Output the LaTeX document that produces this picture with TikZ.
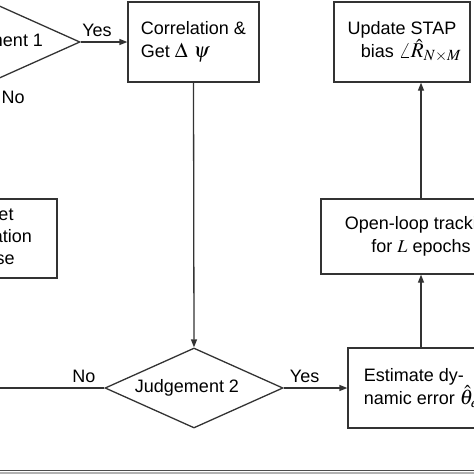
\documentclass[tikz,border=0pt]{standalone}
\usepackage{mathptmx}
\usepackage[no-math]{fontspec}
\setmainfont{Liberation Sans}
\usetikzlibrary{shapes.geometric,arrows.meta}
\tikzset{
  box/.style={draw=black!80,line width=1.3pt,rectangle,inner sep=0pt,
    font=\fontsize{18pt}{23pt}\selectfont},
  decision/.style={draw=black!80,line width=1.3pt,diamond,aspect=2.2,
    minimum width=178pt,minimum height=80pt,inner sep=0pt,
    font=\fontsize{18pt}{23pt}\selectfont},
  arr/.style={draw=black!80,line width=1.3pt,-{Triangle[length=8pt,width=6pt]}},
  lbl/.style={font=\fontsize{18pt}{23pt}\selectfont,inner sep=2pt}
}
\newcommand{\bigmath}[1]{{\fontsize{21pt}{23pt}\selectfont$#1$}}
\begin{document}
\begin{tikzpicture}[x=1pt,y=-1pt]
  \useasboundingbox (0,0) rectangle (474,474);
  \clip (0,0) rectangle (474,474);
  % decisions
  \node[decision] (judge1) at (-9,42) {Judgement 1};
  \node[decision] (judge2) at (194,388) {Judgement 2\hspace*{14pt}};
  % process boxes
  \node[box,minimum width=131pt,minimum height=80pt,align=left]
    (corr) at (193.5,42) {Correlation \&\\Get \bigmath{\Delta\ \psi}};
  \node[box,minimum width=136pt,minimum height=80pt,align=center]
    (stap) at (402,42) {Update STAP\\\hspace*{18pt}bias \bigmath{\angle\hat{R}_{N\times M}}};
  \node[box,minimum width=134pt,minimum height=79pt,align=center,
    font=\fontsize{18pt}{22pt}\selectfont]
    (reset) at (-10,238.5) {Reset\\correlation\\phase};
  \node[box,minimum width=200pt,minimum height=75pt,align=center]
    (open) at (421,236.5) {Open-loop tracking\\for $L$ epochs};
  \node[box,minimum width=146pt,minimum height=80pt,align=left]
    (est) at (421,388) {Estimate dy-\\namic error \bigmath{\hat{\theta}_e}};
  % connectors
  \draw[arr] (judge1.east) -- node[lbl,above,pos=0.35,yshift=3pt] {Yes} (corr.west);
  \draw[arr] (judge1.south) -- node[lbl,right,pos=0.13,xshift=8pt] {No} (reset.north);
  \draw[arr] (corr.south) -- (judge2.north);
  \draw[arr] (judge2.west) -| node[lbl,above,pos=0.09,yshift=3pt] {No} (reset.south);
  \draw[arr] (judge2.east) -- node[lbl,above,pos=0.33,yshift=3pt] {Yes} (est.west);
  \draw[arr] (est.north) -- (open.south);
  \draw[arr] (open.north) -- (open.north |- stap.south);
  % frame at the bottom
  \fill[black!30] (0,471.5) rectangle (474,474);
  \draw[black!70,line width=1.2pt] (0,470.8) -- (474,470.8);
\end{tikzpicture}
\end{document}
